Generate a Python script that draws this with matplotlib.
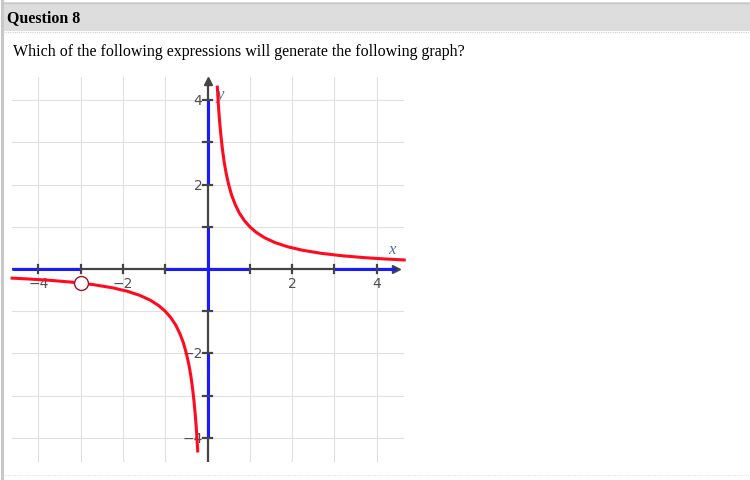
import matplotlib.pyplot as plt
from matplotlib.patches import Rectangle

# points
right_x = [0.232, 0.25, 0.27, 0.29, 0.32, 0.35, 0.39, 0.44, 0.5, 0.57, 0.65, 0.75,
           0.87, 1.0, 1.15, 1.35, 1.6, 1.9, 2.25, 2.7, 3.2, 3.7, 4.2, 4.65]
right_y = [4.31, 4.0, 3.70, 3.45, 3.13, 2.86, 2.56, 2.27, 2.0, 1.75, 1.54, 1.33,
           1.15, 1.0, 0.87, 0.74, 0.625, 0.526, 0.444, 0.370, 0.3125, 0.270, 0.238, 0.215]
left_x = [-4.62, -4.2, -3.7, -3.2, -2.7, -2.25, -1.9, -1.6, -1.35, -1.15, -1.0, -0.87,
          -0.75, -0.65, -0.57, -0.5, -0.44, -0.39, -0.35, -0.32, -0.29, -0.27, -0.25, -0.232]
left_y = [-0.216, -0.238, -0.270, -0.3125, -0.370, -0.444, -0.526, -0.625, -0.74, -0.87, -1.0, -1.15,
          -1.33, -1.54, -1.75, -2.0, -2.27, -2.56, -2.86, -3.13, -3.45, -3.70, -4.0, -4.31]
hole = (-3, -1 / 3)

x_ticks = [-4, -3, -2, -1, 1, 2, 3, 4]
y_ticks = [-4, -3, -2, -1, 1, 2, 3, 4]
x_labels = {-4: "\u22124", -2: "\u22122", 2: "2", 4: "4"}
y_labels = {4: "4", 2: "2", -2: "\u22122", -4: "\u22124"}
# blue pieces along the axes
x_blue = [(-4.62, -3), (-1, 1), (3, 4.45)]
y_blue = [(2, 4), (-1, 1), (-4, -2)]

xmin, xmax = -4.62, 4.65
ymin, ymax = -4.58, 4.55

fig = plt.figure(figsize=(7.5, 4.81), dpi=100)

# page background: header bar and question text
page = fig.add_axes([0, 0, 1, 1])
page.set_xlim(0, 750)
page.set_ylim(481, 0)
page.axis('off')
page.add_patch(Rectangle((3, 3), 747, 29, facecolor='#dddddd', edgecolor='none'))
page.plot([3, 750], [3.5, 3.5], color='#c8c8c8', lw=1)
page.plot([1.5, 1.5], [0, 481], color='#c8c8c8', lw=2.2)
page.plot([3, 750], [32.5, 32.5], color='#d0d0d0', lw=0.8, ls=(0, (1, 1)))
page.plot([3, 750], [475.5, 475.5], color='#e4e4e4', lw=0.8, ls=(0, (1, 1)))
page.text(7, 18, "Question 8", fontfamily='Liberation Serif', fontweight='bold',
          fontsize=11.5, va='center', ha='left', color='black')
page.text(13, 52, "Which of the following expressions will generate the following graph?",
          fontfamily='Liberation Serif', fontsize=11.5, va='center', ha='left', color='black')

# graph
ax = fig.add_axes([12.1 / 750, (481 - 463.3) / 481, (404.2 - 12.1) / 750, (463.3 - 78) / 481])
ax.set_xlim(xmin, xmax)
ax.set_ylim(ymin, ymax)
ax.axis('off')

for t in x_ticks:
    ax.plot([t, t], [ymin, ymax], color='#e0e0e0', lw=0.8, zorder=1)
for t in y_ticks:
    ax.plot([xmin, xmax], [t, t], color='#e0e0e0', lw=0.8, zorder=1)

axis_col = '#444444'
ax.plot([xmin, 4.45], [0, 0], color=axis_col, lw=1.6, zorder=2)
ax.plot([4.46], [0], marker='>', color=axis_col, markersize=6, clip_on=False, zorder=2)
ax.plot([0, 0], [ymin, 4.4], color=axis_col, lw=1.6, zorder=2)
ax.plot([0], [4.45], marker='^', color=axis_col, markersize=6, clip_on=False, zorder=2)

for a, b in x_blue:
    ax.plot([a, b], [0, 0], color='#1a1aff', lw=2.2, solid_capstyle='butt', zorder=3)
for a, b in y_blue:
    ax.plot([0, 0], [a, b], color='#1a1aff', lw=2.2, solid_capstyle='butt', zorder=3)

for t in x_ticks:
    ax.plot([t, t], [-0.1, 0.1], color=axis_col, lw=1.6, zorder=4)
for t in y_ticks:
    ax.plot([-0.1, 0.1], [t, t], color=axis_col, lw=1.6, zorder=4)

for t, s in x_labels.items():
    ax.text(t, -0.16, s, ha='center', va='top', fontsize=10, color='#505050',
            fontfamily='DejaVu Sans', zorder=5)
for t, s in y_labels.items():
    ax.text(-0.12, t, s, ha='right', va='center', fontsize=10, color='#505050',
            fontfamily='DejaVu Sans', zorder=5)

ax.text(4.36, 0.47, "x", fontstyle='italic', fontfamily='Liberation Serif', fontsize=12,
        color='#5a6e96', ha='center', va='center', zorder=5)
ax.text(0.3, 4.15, "y", fontstyle='italic', fontfamily='Liberation Serif', fontsize=12,
        color='#5a6e96', ha='center', va='center', zorder=5)

ax.plot(right_x, right_y, color='#ff0a1e', lw=2.2, zorder=6, clip_on=False)
ax.plot(left_x, left_y, color='#ff0a1e', lw=2.2, zorder=6, clip_on=False)
ax.plot([hole[0]], [hole[1]], marker='o', markersize=10, markerfacecolor='white',
        markeredgecolor='#a0102a', markeredgewidth=1, zorder=7)

fig.savefig('out.png', dpi=100)
